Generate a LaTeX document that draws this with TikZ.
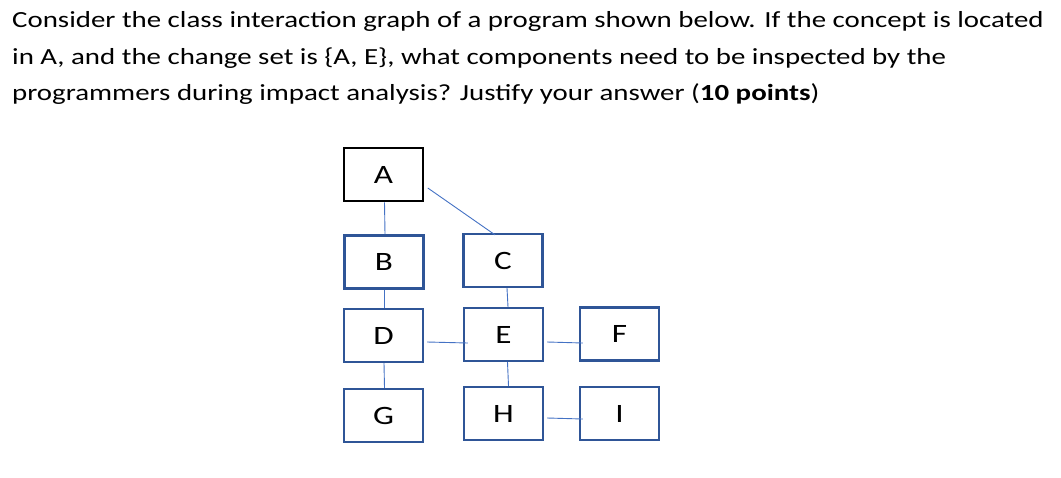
\documentclass[tikz,border=0pt]{standalone}
\usepackage{fontspec}
\setmainfont{Carlito}[FakeStretch=1.25]
\definecolor{boxblue}{HTML}{2F5597}
\definecolor{linkblue}{HTML}{4472C4}
\begin{document}
\begin{tikzpicture}[x=1pt,y=-1pt,
  qtext/.style={anchor=base west,inner sep=0pt,font=\fontsize{23.1}{36}\selectfont},
  cls/.style={draw=boxblue,line width=2.3pt,fill=white,minimum width=79pt,minimum height=53pt,inner sep=0pt,font=\fontsize{26.5}{30}\selectfont},
  link/.style={draw=linkblue,line width=0.9pt}]
\useasboundingbox (0,0) rectangle (1061,477);
\node[qtext] (l1) at (12,27) {Consider the class interaction graph of a program shown below. If the concept is located};
\node[qtext] (l2) at (12,64) {in A, and the change set is \{A, E\}, what components need to be inspected by the};
\node[qtext] (l3) at (12,100) {programmers during impact analysis? Justify your answer (\textbf{10 points})};
\node[cls,draw=black,line width=2.6pt] (A) at (383.5,174.5) {A};
\node[cls] (B) at (384,262) {B};
\node[cls] (C) at (503,260.5) {C};
\node[cls] (D) at (383.5,335.5) {D};
\node[cls] (E) at (503.5,334.5) {E};
\node[cls] (F) at (619.5,334) {F};
\node[cls] (G) at (383.5,415.5) {G};
\node[cls] (H) at (503.5,413.5) {H};
\node[cls] (I) at (619.5,413.5) {I};
\draw[link] ([xshift=1pt]A.south) -- ([xshift=1pt]B.north);
\draw[link] ([shift={(3.5pt,-13.5pt)}]A.east) -- ([shift={(-8pt,-2pt)}]C.north);
\draw[link] (B.south) -- ([xshift=0.5pt]D.north);
\draw[link] ([xshift=4pt]C.south) -- ([xshift=4.5pt]E.north);
\draw[link] ([shift={(3pt,-6.5pt)}]D.east) -- ([shift={(5pt,-8.5pt)}]E.west);
\draw[link] ([shift={(3pt,-7.5pt)}]E.east) -- ([shift={(4pt,-9pt)}]F.west);
\draw[link] ([xshift=0.5pt]D.south) -- ([xshift=1pt]G.north);
\draw[link] ([xshift=4pt]E.south) -- ([xshift=5pt]H.north);
\draw[link] ([shift={(3pt,-4.5pt)}]H.east) -- ([shift={(4pt,-5.5pt)}]I.west);
\end{tikzpicture}
\end{document}
